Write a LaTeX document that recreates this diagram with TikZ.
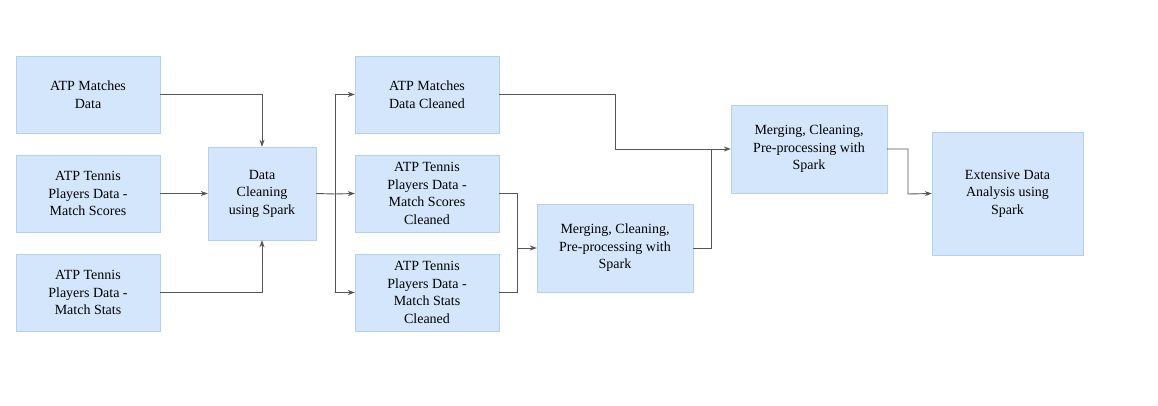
\documentclass[tikz,border=0pt]{standalone}
\usepackage{fontspec}
\setmainfont{Liberation Serif}
\usetikzlibrary{arrows.meta}
\definecolor{boxfill}{HTML}{D4E6FB}
\definecolor{boxline}{HTML}{B5D1EE}
\definecolor{ln}{HTML}{555555}
\begin{document}
\begin{tikzpicture}[x=1pt,y=-1pt,
  box/.style={draw=boxline,fill=boxfill,align=center,inner sep=0pt,font=\fontsize{14}{17.5}\selectfont},
  ar/.style={draw=ln,line width=0.9pt,-{Stealth[length=7pt,width=5pt]}},
  ln/.style={draw=ln,line width=0.9pt}]
\useasboundingbox (0,0) rectangle (1158,406);
\newcommand{\bx}[6]{\node[box,minimum width=#4-#2,minimum height=#5-#3] (#1) at ({(#2+#4)/2},{(#3+#5)/2}) {#6};}
\bx{a1}{16}{56}{160}{133}{ATP Matches\\Data}
\bx{a2}{16}{155}{160}{232}{ATP Tennis\\Players Data -\\Match Scores}
\bx{a3}{16}{254}{160}{331}{ATP Tennis\\Players Data -\\Match Stats}
\bx{b}{208}{147}{316}{240}{Data\\Cleaning\\using Spark}
\bx{c1}{355}{56}{499}{133}{ATP Matches\\Data Cleaned}
\bx{c2}{355}{155}{499}{232}{ATP Tennis\\Players Data -\\Match Scores\\Cleaned}
\bx{c3}{355}{254}{499}{331}{ATP Tennis\\Players Data -\\Match Stats\\Cleaned}
\bx{d}{537}{204}{693}{292}{Merging, Cleaning,\\Pre-processing with\\Spark}
\bx{e}{731}{105}{887}{193}{Merging, Cleaning,\\Pre-processing with\\Spark}
\bx{f}{932}{132}{1083}{255}{Extensive Data\\Analysis using\\Spark}
\coordinate (bs) at (335,194);
\coordinate (cj) at (517,248);
\coordinate (ej) at (711,149);
\draw[ar] (a1.east) -| (b.north);
\draw[ar] (a2.east) -- (b.west);
\draw[ar] (a3.east) -| (b.south);
\draw[ln] (b.east) -- (bs);
\draw[ar] (bs) |- (c1.west);
\draw[ar] (bs) -- (c2.west);
\draw[ar] (bs) |- (c3.west);
\draw[ln] (c2.east) -| (cj);
\draw[ln] (c3.east) -| (cj);
\draw[ar] (cj) -- (d.west);
\draw[ar] (c1.east) -| (615,149) -- (e.west);
\draw[ln] (d.east) -| (ej);
\draw[ar] (e.east) -| (908,194) -- (f.west);
\end{tikzpicture}
\end{document}
